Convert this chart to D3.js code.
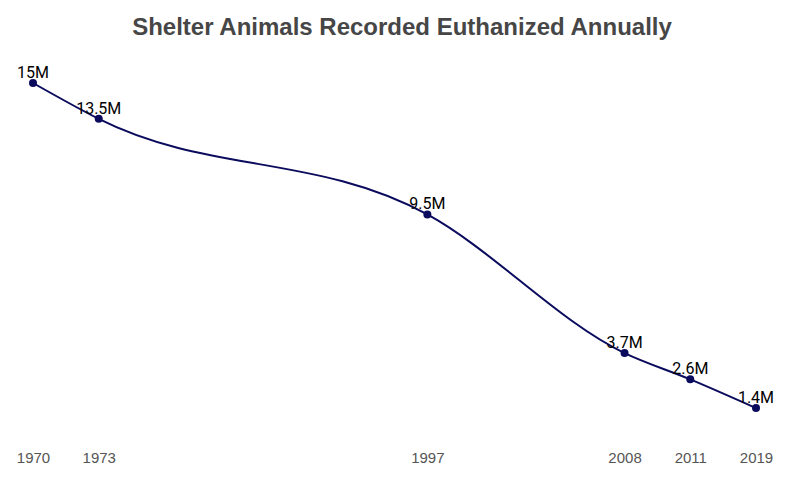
<!DOCTYPE html>
<html><head><meta charset="utf-8">
<script src="https://cdn.jsdelivr.net/npm/d3@7"></script>
<style>body{margin:0;background:#fff}svg{display:block}</style>
</head><body>
<svg id="c" width="800" height="479"></svg>
<script>
const categories = ["1970","1973","","","","","1997","","","2008","2011","2019"];
const values = [15, 13.5, null, null, null, null, 9.5, null, null, 3.7, 2.6, 1.4];
const valueLabels = ["15M","13.5M","","","","","9.5M","","","3.7M","2.6M","1.4M"];
const title = "Shelter Animals Recorded Euthanized Annually";

const svg = d3.select("#c");
const x = d3.scalePoint().domain(d3.range(categories.length)).range([33, 756]);
const y = d3.scaleLinear().domain([0, 15]).range([441.5, 83]);

svg.append("text").attr("x", 402).attr("y", 35).attr("text-anchor", "middle")
  .attr("font-family", "Liberation Sans, Arial, sans-serif").attr("font-weight", "bold")
  .attr("font-size", 24).attr("fill", "#464646").text(title);

const pts = values.map((v, i) => ({i, v, label: valueLabels[i]})).filter(d => d.v !== null);

const line = d3.line().x(d => x(d.i)).y(d => y(d.v)).curve(d3.curveMonotoneX);
svg.append("path").datum(pts).attr("d", line).attr("fill", "none")
  .attr("stroke", "#0b0b5e").attr("stroke-width", 2);

svg.selectAll("circle.pt").data(pts).join("circle").attr("class", "pt")
  .attr("cx", d => x(d.i)).attr("cy", d => y(d.v)).attr("r", 4).attr("fill", "#0b0b5e");

svg.selectAll("text.lbl").data(pts).join("text").attr("class", "lbl")
  .attr("x", d => x(d.i)).attr("y", d => y(d.v) - 5).attr("text-anchor", "middle")
  .attr("font-family", "Roboto, sans-serif").attr("font-size", 16).attr("fill", "#000")
  .text(d => d.label);

const axis = d3.axisBottom(x).tickSize(0).tickFormat(i => categories[i]);
const g = svg.append("g").attr("transform", "translate(0,444)").call(axis);
g.select(".domain").remove();
g.selectAll("text").attr("font-family", "Liberation Sans, Arial, sans-serif")
  .attr("font-size", 15).attr("fill", "#555").attr("dy", "0.71em").attr("y", 8);
</script>
</body></html>
